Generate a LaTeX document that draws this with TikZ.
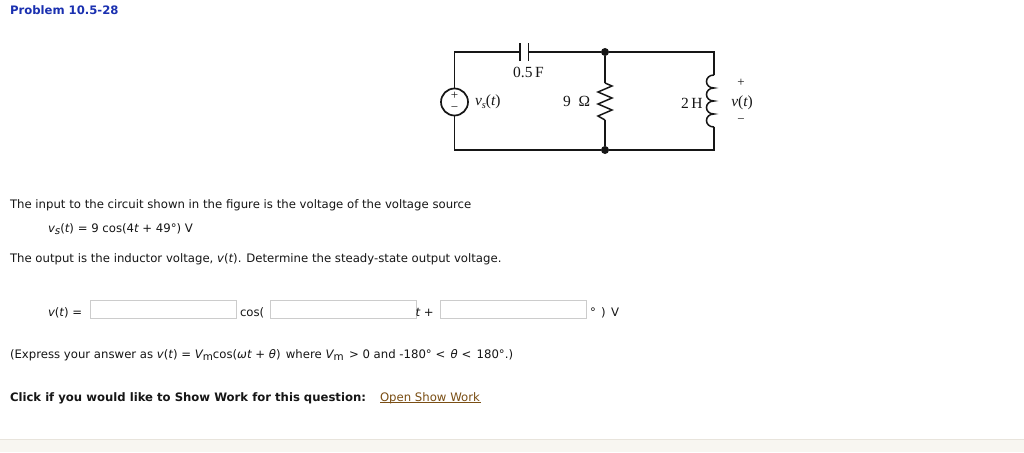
\documentclass[tikz,border=0pt]{standalone}
\usepackage{fontspec}
\setmainfont{DejaVu Sans}
\newfontfamily\circfont{Liberation Serif}
\definecolor{ink}{HTML}{161616}
\definecolor{titleblue}{HTML}{1A30B0}
\definecolor{linkbrown}{HTML}{7A4E14}
\definecolor{boxedge}{HTML}{CCCCCC}
\definecolor{bandfill}{HTML}{F8F6F1}
\definecolor{bandedge}{HTML}{E8E4DC}
\newcommand{\lowsub}[1]{\raisebox{-2.6pt}{\fontsize{10.4}{12}\selectfont #1}}
\newcommand{\ssp}{\hspace{1.6pt}}
\tikzset{
  txt/.style={anchor=base west,inner sep=0pt,outer sep=0pt,text=ink,font=\fontsize{11.7}{14}\selectfont},
  boldtxt/.style={txt,font=\bfseries\fontsize{11.65}{14}\selectfont},
  circ/.style={inner sep=0pt,outer sep=0pt,text=ink,font=\circfont\fontsize{15.5}{17}\selectfont},
  sign/.style={circ,font=\circfont\fontsize{13}{14}\selectfont},
  wire/.style={draw=ink,line width=1.9pt},
  part/.style={draw=ink,line width=1.5pt},
  dotnode/.style={circle,fill=ink,inner sep=0pt,minimum size=8pt},
  inbox/.style={draw=boxedge,fill=white,line width=0.8pt,anchor=north west,inner sep=0pt,minimum width=146pt,minimum height=18pt}
}
\begin{document}
\begin{tikzpicture}[x=1pt,y=-1pt]
\useasboundingbox (0,0) rectangle (1024,452);
\fill[white] (0,0) rectangle (1024,452);
\fill[bandfill] (0,439) rectangle (1024,452);
\draw[bandedge,line width=1pt] (0,439) -- (1024,439);
\node[boldtxt,text=titleblue] (title) at (10,15) {Problem 10.5-28};
% circuit
\coordinate (tl) at (454.5,52);
\coordinate (tr) at (714,52);
\coordinate (bl) at (454.5,150);
\coordinate (br) at (714,150);
\node[dotnode] (jt) at (605,52) {};
\node[dotnode] (jb) at (605,150) {};
\coordinate (capl) at (520,52);
\coordinate (capr) at (528.5,52);
\node[circle,draw=ink,line width=1.7pt,minimum size=27pt,inner sep=0pt] (src) at (454.5,102) {};
\coordinate (rt) at (605,83);
\coordinate (rb) at (605,120);
\coordinate (lt) at (714,75);
\coordinate (lb) at (714,127);
\draw[wire] (src.north) -- (tl) -- (capl);
\draw[wire] (capr) -- (jt) -- (tr) -- (lt);
\draw[wire] (src.south) -- (bl) -- (jb) -- (br) -- (lb);
\draw[wire] (jt) -- (rt);
\draw[wire] (rb) -- (jb);
\draw[part] ([yshift=-9pt]capl) -- ([yshift=9pt]capl);
\draw[part] ([yshift=-9pt]capr) -- ([yshift=9pt]capr);
\draw[part,line join=miter] (rt) -- (612,86) -- (598,92) -- (612,98) -- (598,104) -- (612,110) -- (598,116) -- (rb);
\draw[part] (lt)
  .. controls (704,75) and (704,88) .. (714,88)
  .. controls (704,88) and (704,101) .. (714,101)
  .. controls (704,101) and (704,114) .. (714,114)
  .. controls (704,114) and (704,127) .. (lb);
\node[sign] (sp) at (454.5,95.5) {+};
\node[sign] (sm) at (454.5,109) {−};
\node[circ] (cl) at (528.5,72.5) {0.5\,F};
\node[circ,anchor=west] (vs) at (475,102) {\itshape v\lowsub{s}\upshape(\itshape t\upshape)};
\node[circ,anchor=west] (rl) at (563,101) {9\ \ Ω};
\node[circ,anchor=west] (ll) at (681,103) {2\,H};
\node[sign] (vp) at (741,83) {+};
\node[circ] (vv) at (742,102.5) {\itshape v\upshape(\itshape t\upshape)};
\node[sign] (vm) at (741,121) {−};
% text
\node[txt] (l1) at (10,208) {The input to the circuit shown in the figure is the voltage of the voltage source};
\node[txt] (l2) at (48,232) {\itshape v\lowsub{s}\normalfont(\itshape t\normalfont) = 9 cos(4\itshape t\normalfont\ + 49°) V};
\node[txt] (l3) at (10,262.5) {The output is the inductor voltage, \itshape v\normalfont(\itshape t\normalfont). Determine the steady-state output voltage.};
\node[txt] (a0) at (48,316) {\itshape v\normalfont(\itshape t\normalfont) =};
\node[inbox] (b1) at (89.5,300) {};
\node[txt] (a1) at (240,316) {cos(};
\node[inbox] (b2) at (269.5,300) {};
\node[txt] (a2) at (415.5,316) {\itshape t\normalfont\ +};
\node[inbox] (b3) at (439.5,300) {};
\node[txt] (a3) at (590,316) {°\ssp\ )\ssp\ V};
\node[txt] (l4) at (10,358) {(Express your answer as \itshape v\normalfont(\itshape t\normalfont) = \itshape V\normalfont\lowsub{m}cos(\itshape ωt\normalfont\ + \itshape θ\normalfont)\ssp\ where \itshape V\normalfont\lowsub{m}\ssp\ > 0 and -180° <\ssp\ \itshape θ\normalfont\ <\ssp\ 180°.)};
\node[boldtxt] (l5) at (10,401) {Click if you would like to Show Work for this question:};
\node[txt,text=linkbrown] (lnk) at (380,401) {Open Show Work};
\draw[linkbrown,line width=0.7pt] (lnk.base west) ++(0,1.6) -- ++(101,0);
\end{tikzpicture}
\end{document}
